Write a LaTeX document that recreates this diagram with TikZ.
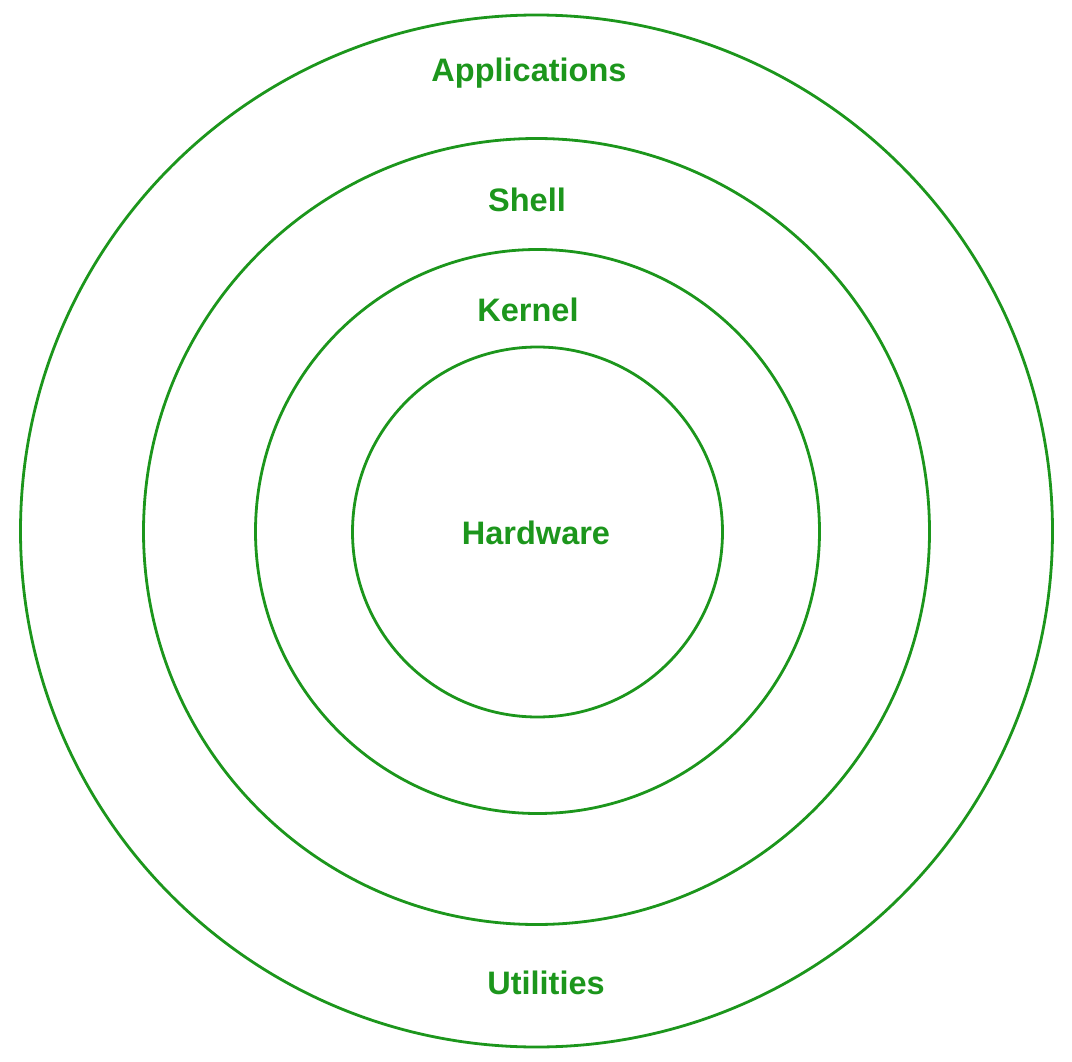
\documentclass[tikz,border=0pt]{standalone}
\usepackage{fontspec}
\setmainfont{Liberation Sans}
\definecolor{ring}{RGB}{28,150,28}
\begin{document}
\begin{tikzpicture}[x=1pt,y=-1pt,
  ringstyle/.style={draw=ring,line width=2.8pt,circle,inner sep=0pt},
  lbl/.style={text=ring,font=\fontsize{32.5}{38}\selectfont\bfseries,inner sep=0pt}]
\useasboundingbox (0,0) rectangle (1072,1062);
\node[ringstyle,minimum size=1032pt] (apps) at (536.5,531) {};
\node[ringstyle,minimum size=786pt] (shell) at (536.5,531.5) {};
\node[ringstyle,minimum size=564pt] (kernel) at (537.5,531.5) {};
\node[ringstyle,minimum size=370pt] (hw) at (537.5,532) {};
\node[lbl] (tapps) at (529,73) {Applications};
\node[lbl] (tshell) at (527,200) {Shell};
\node[lbl] (tkernel) at (528,310) {Kernel};
\node[lbl] (thw) at (536,533) {Hardware};
\node[lbl] (tutil) at (546,983) {Utilities};
\end{tikzpicture}
\end{document}
